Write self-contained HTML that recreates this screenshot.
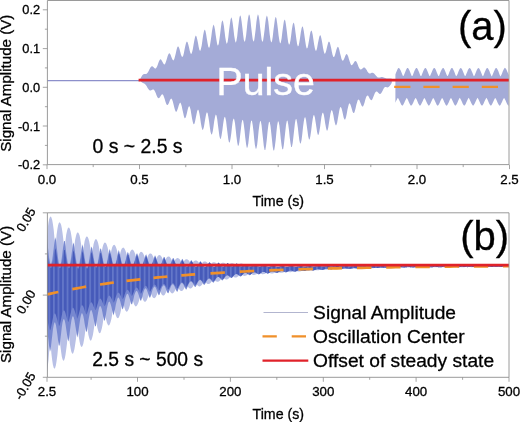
<!DOCTYPE html>
<html><head><meta charset="utf-8"><title>Signal Amplitude</title>
<style>html,body{margin:0;padding:0;background:#fff}svg{display:block}text{stroke:#000;stroke-width:.3px}</style></head>
<body>
<svg width="520" height="422" viewBox="0 0 520 422" font-family="'Liberation Sans', sans-serif" fill="#000">
<rect width="520" height="422" fill="#fff"/>
<filter id="bl" x="0" y="0" width="100%" height="100%" filterUnits="userSpaceOnUse" color-interpolation-filters="sRGB"><feGaussianBlur stdDeviation="0.5"/></filter>
<g filter="url(#bl)">
<rect width="520" height="422" fill="#fff"/>
<path d="M47.4,80.6H139.5" stroke="#8d90cb" stroke-width="1.1" fill="none"/>
<filter id="b2" x="40" y="0" width="480" height="170" filterUnits="userSpaceOnUse" color-interpolation-filters="sRGB"><feGaussianBlur stdDeviation="0.7"/></filter>
<g filter="url(#b2)"><path d="M139.5 80.0L140.2 78.9L141.0 77.6L141.7 76.2L142.5 74.9L143.2 74.4L143.9 74.1L144.7 74.0L145.4 74.0L146.2 73.9L146.9 73.6L147.6 72.8L148.4 71.6L149.1 70.1L149.9 68.6L150.6 67.2L151.3 66.4L152.1 66.2L152.8 66.6L153.6 67.3L154.3 68.1L155.0 68.6L155.8 68.5L156.5 67.5L157.3 65.9L158.0 63.9L158.7 61.9L159.5 60.2L160.2 59.3L161.0 59.5L161.7 60.4L162.4 61.8L163.2 63.3L163.9 64.2L164.7 64.4L165.4 63.3L166.1 61.3L166.9 58.8L167.6 56.2L168.4 54.2L169.1 53.2L169.8 53.5L170.6 54.8L171.3 56.8L172.1 58.8L172.8 60.1L173.5 60.4L174.3 59.1L175.0 56.6L175.8 53.3L176.5 50.1L177.2 47.5L178.0 46.3L178.7 47.0L179.5 49.0L180.2 51.8L180.9 54.5L181.7 56.5L182.4 57.1L183.2 55.7L183.9 52.9L184.6 49.2L185.4 45.6L186.1 42.8L186.9 41.5L187.6 42.3L188.3 44.5L189.1 47.7L189.8 51.0L190.6 53.4L191.3 54.1L192.0 52.5L192.8 49.2L193.5 44.9L194.3 40.6L195.0 37.2L195.7 35.6L196.5 36.5L197.2 39.2L198.0 43.1L198.7 47.0L199.4 49.9L200.2 50.9L200.9 49.1L201.7 45.4L202.4 40.4L203.1 35.4L203.9 31.5L204.6 29.5L205.4 30.7L206.1 34.0L206.8 38.6L207.6 43.3L208.3 46.8L209.1 48.1L209.8 46.2L210.5 42.1L211.3 36.6L212.0 31.0L212.8 26.7L213.5 24.5L214.2 25.9L215.0 29.7L215.7 34.9L216.5 40.2L217.2 44.2L217.9 45.8L218.7 43.9L219.4 39.4L220.2 33.5L220.9 27.4L221.6 22.6L222.4 20.3L223.1 21.8L223.9 26.0L224.6 31.8L225.3 37.6L226.1 42.1L226.8 44.0L227.6 42.1L228.3 37.5L229.0 31.1L229.8 24.7L230.5 19.7L231.3 17.2L232.0 18.9L232.7 23.3L233.5 29.5L234.2 35.8L235.0 40.6L235.7 42.8L236.4 40.9L237.2 36.2L237.9 29.6L238.7 22.9L239.4 17.7L240.1 15.2L240.9 16.8L241.6 21.5L242.4 28.0L243.1 34.6L243.8 39.7L244.6 42.1L245.3 40.3L246.1 35.5L246.8 28.9L247.5 22.1L248.3 16.7L249.0 14.2L249.8 15.8L250.5 20.6L251.2 27.2L252.0 34.0L252.7 39.3L253.5 41.8L254.2 40.2L254.9 35.5L255.7 28.9L256.4 22.1L257.2 16.7L257.9 14.2L258.6 15.8L259.4 20.6L260.1 27.2L260.9 34.0L261.6 39.4L262.3 42.0L263.1 40.6L263.8 36.1L264.6 29.7L265.3 23.1L266.0 17.9L266.8 15.4L267.5 16.9L268.3 21.5L269.0 28.0L269.7 34.6L270.5 40.0L271.2 42.6L272.0 41.3L272.7 37.0L273.4 30.8L274.2 24.4L274.9 19.2L275.7 16.7L276.4 18.2L277.1 22.7L277.9 29.0L278.6 35.6L279.4 40.8L280.1 43.5L280.8 42.4L281.6 38.4L282.3 32.6L283.1 26.5L283.8 21.7L284.5 19.4L285.3 20.7L286.0 25.0L286.8 30.9L287.5 37.2L288.2 42.2L289.0 44.8L289.7 44.0L290.5 40.3L291.2 34.9L291.9 29.2L292.7 24.7L293.4 22.5L294.2 23.7L294.9 27.7L295.6 33.3L296.4 39.2L297.1 43.9L297.9 46.5L298.6 45.8L299.3 42.5L300.1 37.6L300.8 32.4L301.6 28.3L302.3 26.2L303.0 27.3L303.8 31.0L304.5 36.1L305.3 41.6L306.0 46.0L306.7 48.4L307.5 47.9L308.2 45.0L309.0 40.6L309.7 35.9L310.4 32.2L311.2 30.4L311.9 31.3L312.7 34.7L313.4 39.4L314.1 44.3L314.9 48.4L315.6 50.7L316.4 50.4L317.1 47.9L317.8 44.0L318.6 39.9L319.3 36.7L320.1 35.1L320.8 36.0L321.5 39.1L322.3 43.3L323.0 47.8L323.8 51.5L324.5 53.7L325.2 53.6L326.0 51.6L326.7 48.5L327.5 45.2L328.2 42.6L328.9 41.4L329.7 42.2L330.4 44.7L331.2 48.2L331.9 52.0L332.6 55.1L333.4 56.9L334.1 56.9L334.9 55.3L335.6 52.7L336.3 49.9L337.1 47.7L337.8 46.7L338.6 47.4L339.3 49.7L340.0 52.9L340.8 56.1L341.5 58.9L342.3 60.6L343.0 60.7L343.7 59.7L344.5 57.9L345.2 55.9L346.0 54.5L346.7 53.9L347.4 54.7L348.2 56.5L348.9 58.9L349.7 61.5L350.4 63.6L351.1 65.0L351.9 65.2L352.6 64.6L353.4 63.4L354.1 62.2L354.8 61.3L355.6 61.0L356.3 61.6L357.1 63.0L357.8 64.8L358.5 66.7L359.3 68.2L360.0 69.3L360.8 69.6L361.5 69.3L362.2 68.7L363.0 68.0L363.7 67.5L364.5 67.5L365.2 68.0L365.9 68.9L366.7 70.1L367.4 71.4L368.2 72.4L368.9 73.2L369.6 73.5L370.4 73.4L371.1 73.1L371.9 72.8L372.6 72.7L373.3 73.0L374.1 73.5L374.8 74.3L375.6 75.2L376.3 76.1L377.0 76.8L377.8 77.4L378.5 77.5L379.3 77.5L380.0 77.4L380.7 77.2L381.5 77.1L382.2 77.1L383.0 77.2L383.7 77.5L384.4 77.7L385.2 78.0L385.9 78.3L386.7 78.5L387.4 78.5L388.1 78.6L388.9 78.5L389.6 78.5L390.4 78.5L391.1 78.5L391.8 78.7L391.8 82.8L391.1 83.9L390.4 85.0L389.6 86.0L388.9 86.8L388.1 87.3L387.4 87.4L386.7 87.2L385.9 87.0L385.2 87.1L384.4 87.6L383.7 88.6L383.0 89.9L382.2 91.4L381.5 92.7L380.7 93.7L380.0 94.0L379.3 93.8L378.5 93.1L377.8 92.3L377.0 91.6L376.3 91.4L375.6 92.0L374.8 93.3L374.1 95.1L373.3 97.1L372.6 98.8L371.9 100.0L371.1 100.2L370.4 99.6L369.6 98.4L368.9 97.0L368.2 95.8L367.4 95.4L366.7 96.1L365.9 97.7L365.2 100.1L364.5 102.7L363.7 104.9L363.0 106.4L362.2 106.6L361.5 105.6L360.8 103.8L360.0 101.8L359.3 100.1L358.5 99.4L357.8 100.1L357.1 102.2L356.3 105.1L355.6 108.3L354.8 111.2L354.1 113.0L353.4 113.1L352.6 111.7L351.9 109.3L351.1 106.6L350.4 104.4L349.7 103.3L348.9 104.0L348.2 106.5L347.4 110.0L346.7 113.9L346.0 117.3L345.2 119.4L344.5 119.5L343.7 117.7L343.0 114.6L342.3 111.2L341.5 108.3L340.8 106.9L340.0 107.6L339.3 110.4L338.6 114.4L337.8 119.0L337.1 122.9L336.3 125.3L335.6 125.3L334.9 123.1L334.1 119.5L333.4 115.3L332.6 111.8L331.9 110.0L331.2 110.7L330.4 113.7L329.7 118.3L328.9 123.3L328.2 127.7L327.5 130.4L326.7 130.4L326.0 127.8L325.2 123.6L324.5 118.8L323.8 114.8L323.0 112.6L322.3 113.2L321.5 116.5L320.8 121.4L320.1 127.0L319.3 131.8L318.6 134.8L317.8 134.7L317.1 131.9L316.4 127.2L315.6 121.9L314.9 117.4L314.1 114.9L313.4 115.4L312.7 119.0L311.9 124.5L311.2 130.6L310.4 136.0L309.7 139.3L309.0 139.4L308.2 136.3L307.5 131.1L306.7 125.2L306.0 120.1L305.3 117.2L304.5 117.7L303.8 121.4L303.0 127.3L302.3 133.9L301.6 139.7L300.8 143.3L300.1 143.4L299.3 140.0L298.6 134.4L297.9 128.0L297.1 122.4L296.4 119.1L295.6 119.5L294.9 123.5L294.2 129.8L293.4 136.9L292.7 143.1L291.9 146.9L291.2 146.9L290.5 143.3L289.7 137.2L289.0 130.3L288.2 124.3L287.5 120.6L286.8 120.9L286.0 124.9L285.3 131.4L284.5 138.8L283.8 145.3L283.1 149.2L282.3 149.3L281.6 145.5L280.8 139.1L280.1 131.8L279.4 125.5L278.6 121.6L277.9 121.6L277.1 125.7L276.4 132.2L275.7 139.7L274.9 146.3L274.2 150.3L273.4 150.4L272.7 146.4L272.0 139.9L271.2 132.5L270.5 125.9L269.7 121.9L269.0 121.7L268.3 125.6L267.5 132.1L266.8 139.5L266.0 146.0L265.3 150.0L264.6 150.0L263.8 146.1L263.1 139.6L262.3 132.2L261.6 125.6L260.9 121.4L260.1 121.1L259.4 124.8L258.6 131.0L257.9 138.2L257.2 144.6L256.4 148.6L255.7 148.8L254.9 145.1L254.2 138.9L253.5 131.6L252.7 125.1L252.0 121.0L251.2 120.6L250.5 124.1L249.8 130.2L249.0 137.3L248.3 143.6L247.5 147.5L246.8 147.8L246.1 144.2L245.3 138.0L244.6 130.9L243.8 124.5L243.1 120.4L242.4 119.8L241.6 123.1L240.9 128.9L240.1 135.7L239.4 141.7L238.7 145.5L237.9 145.8L237.2 142.3L236.4 136.3L235.7 129.4L235.0 123.2L234.2 119.2L233.5 118.5L232.7 121.5L232.0 126.8L231.3 133.2L230.5 138.8L229.8 142.3L229.0 142.6L228.3 139.3L227.6 133.8L226.8 127.2L226.1 121.3L225.3 117.4L224.6 116.7L223.9 119.3L223.1 124.2L222.4 130.0L221.6 135.3L220.9 138.6L220.2 138.9L219.4 135.9L218.7 130.7L217.9 124.7L217.2 119.1L216.5 115.4L215.7 114.6L215.0 116.9L214.2 121.3L213.5 126.5L212.8 131.2L212.0 134.2L211.3 134.5L210.5 131.8L209.8 127.1L209.1 121.6L208.3 116.5L207.6 113.1L206.8 112.2L206.1 114.2L205.4 118.0L204.6 122.7L203.9 126.9L203.1 129.6L202.4 129.9L201.7 127.4L200.9 123.2L200.2 118.2L199.4 113.6L198.7 110.4L198.0 109.4L197.2 111.0L196.5 114.3L195.7 118.2L195.0 121.8L194.3 124.0L193.5 124.2L192.8 122.0L192.0 118.3L191.3 113.9L190.6 109.8L189.8 107.0L189.1 106.1L188.3 107.4L187.6 110.0L186.9 113.3L186.1 116.3L185.4 118.1L184.6 118.2L183.9 116.3L183.2 113.1L182.4 109.4L181.7 105.9L180.9 103.4L180.2 102.5L179.5 103.4L178.7 105.5L178.0 108.0L177.2 110.3L176.5 111.7L175.8 111.7L175.0 110.0L174.3 107.4L173.5 104.3L172.8 101.4L172.1 99.4L171.3 98.5L170.6 99.1L169.8 100.6L169.1 102.4L168.4 104.1L167.6 105.0L166.9 104.9L166.1 103.5L165.4 101.4L164.7 99.0L163.9 96.7L163.2 95.0L162.4 94.3L161.7 94.6L161.0 95.5L160.2 96.7L159.5 97.7L158.7 98.2L158.0 98.0L157.3 96.9L156.5 95.2L155.8 93.3L155.0 91.6L154.3 90.3L153.6 89.6L152.8 89.5L152.1 89.8L151.3 90.3L150.6 90.6L149.9 90.5L149.1 90.1L148.4 89.1L147.6 87.9L146.9 86.6L146.2 85.4L145.4 84.5L144.7 83.8L143.9 83.4L143.2 83.1L142.5 82.7L141.7 82.2L141.0 81.5L140.2 80.8L139.5 80.0Z" fill="#a4abd7"/>
<path d="M395.4 74.4L396.1 72.5L396.9 70.7L397.6 69.1L398.4 68.1L399.1 68.0L399.8 68.9L400.6 70.3L401.3 72.1L402.1 74.0L402.8 75.8L403.5 76.0L404.3 74.3L405.0 72.4L405.8 70.6L406.5 69.1L407.2 68.1L408.0 68.0L408.7 68.9L409.5 70.4L410.2 72.2L410.9 74.1L411.7 75.9L412.4 76.0L413.2 74.2L413.9 72.3L414.6 70.5L415.4 69.0L416.1 68.1L416.9 68.0L417.6 69.0L418.3 70.5L419.1 72.3L419.8 74.2L420.6 75.9L421.3 75.9L422.0 74.2L422.8 72.3L423.5 70.5L424.3 69.0L425.0 68.0L425.7 68.1L426.5 69.0L427.2 70.5L428.0 72.4L428.7 74.3L429.4 76.0L430.2 75.8L430.9 74.1L431.7 72.2L432.4 70.4L433.1 68.9L433.9 68.0L434.6 68.1L435.4 69.1L436.1 70.6L436.8 72.4L437.6 74.3L438.3 76.0L439.1 75.8L439.8 74.0L440.5 72.1L441.3 70.3L442.0 68.9L442.8 68.0L443.5 68.1L444.2 69.1L445.0 70.7L445.7 72.5L446.5 74.4L447.2 76.1L447.9 75.7L448.7 73.9L449.4 72.0L450.2 70.2L450.9 68.8L451.6 68.0L452.4 68.1L453.1 69.2L453.9 70.8L454.6 72.6L455.3 74.5L456.1 76.2L456.8 75.6L457.6 73.9L458.3 72.0L459.0 70.2L459.8 68.8L460.5 67.9L461.3 68.2L462.0 69.3L462.7 70.8L463.5 72.7L464.2 74.6L465.0 76.2L465.7 75.6L466.4 73.8L467.2 71.9L467.9 70.1L468.7 68.7L469.4 67.9L470.1 68.2L470.9 69.3L471.6 70.9L472.4 72.7L473.1 74.6L473.8 76.3L474.6 75.5L475.3 73.7L476.1 71.8L476.8 70.1L477.5 68.7L478.3 67.9L479.0 68.2L479.8 69.4L480.5 71.0L481.2 72.8L482.0 74.7L482.7 76.3L483.5 75.4L484.2 73.6L484.9 71.7L485.7 70.0L486.4 68.6L487.2 67.9L487.9 68.3L488.6 69.4L489.4 71.0L490.1 72.9L490.9 74.8L491.6 76.4L492.3 75.4L493.1 73.5L493.8 71.7L494.6 69.9L495.3 68.6L496.0 67.9L496.8 68.3L497.5 69.5L498.3 71.1L499.0 73.0L499.7 74.9L500.5 76.4L501.2 75.3L502.0 73.5L502.7 71.6L503.4 69.9L504.2 68.6L504.9 67.8L505.7 68.4L506.4 69.5L507.1 71.2L507.9 73.1L508.6 74.9L508.6 105.7L507.9 105.2L507.1 104.0L506.4 102.5L505.7 100.8L504.9 99.2L504.2 97.9L503.4 98.8L502.7 100.3L502.0 102.0L501.2 103.6L500.5 104.9L499.7 105.7L499.0 105.2L498.3 104.0L497.5 102.4L496.8 100.7L496.0 99.1L495.3 97.9L494.6 98.8L493.8 100.4L493.1 102.1L492.3 103.7L491.6 105.0L490.9 105.8L490.1 105.1L489.4 103.9L488.6 102.3L487.9 100.6L487.2 99.1L486.4 97.8L485.7 98.9L484.9 100.4L484.2 102.1L483.5 103.7L482.7 105.0L482.0 105.8L481.2 105.1L480.5 103.9L479.8 102.3L479.0 100.6L478.3 99.0L477.5 97.8L476.8 98.9L476.1 100.5L475.3 102.2L474.6 103.8L473.8 105.1L473.1 105.8L472.4 105.1L471.6 103.8L470.9 102.2L470.1 100.5L469.4 98.9L468.7 97.8L467.9 99.0L467.2 100.6L466.4 102.3L465.7 103.9L465.0 105.1L464.2 105.8L463.5 105.0L462.7 103.7L462.0 102.1L461.3 100.4L460.5 98.9L459.8 97.8L459.0 99.1L458.3 100.6L457.6 102.3L456.8 103.9L456.1 105.1L455.3 105.8L454.6 105.0L453.9 103.7L453.1 102.1L452.4 100.4L451.6 98.8L450.9 97.9L450.2 99.1L449.4 100.7L448.7 102.4L447.9 104.0L447.2 105.2L446.5 105.7L445.7 104.9L445.0 103.6L444.2 102.0L443.5 100.3L442.8 98.8L442.0 97.9L441.3 99.2L440.5 100.8L439.8 102.5L439.1 104.0L438.3 105.2L437.6 105.7L436.8 104.9L436.1 103.6L435.4 101.9L434.6 100.2L433.9 98.7L433.1 98.0L432.4 99.2L431.7 100.8L430.9 102.5L430.2 104.1L429.4 105.3L428.7 105.7L428.0 104.8L427.2 103.5L426.5 101.9L425.7 100.2L425.0 98.7L424.3 98.0L423.5 99.3L422.8 100.9L422.0 102.6L421.3 104.1L420.6 105.3L419.8 105.7L419.1 104.8L418.3 103.4L417.6 101.8L416.9 100.1L416.1 98.6L415.4 98.0L414.6 99.4L413.9 101.0L413.2 102.7L412.4 104.2L411.7 105.3L410.9 105.7L410.2 104.8L409.5 103.4L408.7 101.7L408.0 100.0L407.2 98.6L406.5 98.1L405.8 99.4L405.0 101.0L404.3 102.7L403.5 104.3L402.8 105.4L402.1 105.6L401.3 104.7L400.6 103.3L399.8 101.6L399.1 100.0L398.4 98.5L397.6 98.1L396.9 99.5L396.1 101.1L395.4 102.8Z" fill="#a4abd7"/></g>
<path d="M138.6,80.1H509" stroke="#e0222a" stroke-width="2.7" fill="none"/>
<path d="M394.2,86.9H509" stroke="#f0902a" stroke-width="2.4" stroke-dasharray="16.2 13" fill="none"/>
<path d="M47.4,0.5H509V164.6H47.4Z" fill="none" stroke="#8e8e8e" stroke-width="0.9"/>
<path d="M47.0,164.6v4.5M139.5,164.6v4.5M232.0,164.6v4.5M324.5,164.6v4.5M417.0,164.6v4.5M509.5,164.6v4.5M93.2,164.6v2.5M185.8,164.6v2.5M278.2,164.6v2.5M370.8,164.6v2.5M463.2,164.6v2.5" stroke="#8e8e8e" stroke-width="0.8" fill="none"/>
<path d="M47.4,9.8h-4.6M47.4,48.6h-4.6M47.4,87.3h-4.6M47.4,126.0h-4.6M47.4,164.8h-4.6M47.4,29.2h-2.5M47.4,67.9h-2.5M47.4,106.7h-2.5M47.4,145.4h-2.5" stroke="#8e8e8e" stroke-width="0.8" fill="none"/>
<text x="40.1" y="14.3" font-size="12.8" text-anchor="end">0.2</text>
<text x="40.1" y="53.1" font-size="12.8" text-anchor="end">0.1</text>
<text x="40.1" y="91.8" font-size="12.8" text-anchor="end">0.0</text>
<text x="40.1" y="130.5" font-size="12.8" text-anchor="end">-0.1</text>
<text x="40.1" y="169.3" font-size="12.8" text-anchor="end">-0.2</text>
<text x="47.0" y="184.2" font-size="13.3" text-anchor="middle">0.0</text>
<text x="139.5" y="184.2" font-size="13.3" text-anchor="middle">0.5</text>
<text x="232.0" y="184.2" font-size="13.3" text-anchor="middle">1.0</text>
<text x="324.5" y="184.2" font-size="13.3" text-anchor="middle">1.5</text>
<text x="417.0" y="184.2" font-size="13.3" text-anchor="middle">2.0</text>
<text x="509.5" y="184.2" font-size="13.3" text-anchor="middle">2.5</text>
<text x="278.3" y="206.2" font-size="14.2" text-anchor="middle">Time (s)</text>
<text transform="translate(11,83.2) rotate(-90)" font-size="15.15" text-anchor="middle">Signal Amplitude (V)</text>
<text x="265.7" y="95" font-size="39.3" text-anchor="middle" style="fill:#fff;stroke:#fff;stroke-width:.4px">Pulse</text>
<text x="92.5" y="153.2" font-size="20" textLength="90" lengthAdjust="spacingAndGlyphs">0 s ~ 2.5 s</text>
<text x="482.5" y="40.3" font-size="40" text-anchor="middle">(a)</text>
<clipPath id="cb"><rect x="47" y="212.8" width="462" height="164.5"/></clipPath>
<g clip-path="url(#cb)">
<path d="M47.0 236.8L47.7 228.3L48.5 222.6L49.2 218.9L50.0 216.9L50.7 216.4L51.4 217.5L52.2 220.0L52.9 224.0L53.7 229.7L54.4 237.4L55.1 249.9L55.9 243.4L56.6 234.7L57.4 229.0L58.1 225.3L58.8 223.1L59.6 222.3L60.3 222.9L61.1 224.8L61.8 228.1L62.5 232.8L63.3 239.3L64.0 248.9L64.8 249.6L65.5 240.5L66.2 234.7L67.0 230.9L67.7 228.5L68.5 227.5L69.2 227.7L69.9 229.1L70.7 231.8L71.4 235.8L72.2 241.3L72.9 249.1L73.6 255.9L74.4 245.9L75.1 240.1L75.9 236.3L76.6 233.8L77.3 232.6L78.1 232.5L78.8 233.5L79.6 235.6L80.3 238.9L81.0 243.4L81.8 249.8L82.5 262.0L83.3 250.7L84.0 244.8L84.7 240.8L85.5 238.2L86.2 236.8L87.0 236.4L87.7 237.0L88.4 238.5L89.2 241.2L89.9 244.9L90.7 250.1L91.4 258.3L92.1 254.3L92.9 248.2L93.6 244.1L94.4 241.3L95.1 239.7L95.8 239.0L96.6 239.4L97.3 240.7L98.1 242.9L98.8 246.1L99.5 250.4L100.3 256.8L101.0 257.8L101.8 251.5L102.5 247.5L103.2 244.9L104.0 243.3L104.7 242.6L105.5 242.7L106.2 243.5L106.9 245.2L107.7 247.7L108.4 251.2L109.2 256.1L109.9 261.0L110.6 254.1L111.4 250.2L112.1 247.5L112.9 245.8L113.6 244.9L114.3 244.8L115.1 245.5L115.8 246.8L116.6 248.9L117.3 251.8L118.0 255.8L118.8 263.2L119.5 256.7L120.3 252.9L121.0 250.4L121.7 248.7L122.5 247.9L123.2 247.6L124.0 247.9L124.7 248.9L125.4 250.5L126.2 252.8L126.9 256.0L127.7 260.9L128.4 258.8L129.1 255.0L129.9 252.6L130.6 250.9L131.4 249.9L132.1 249.5L132.8 249.7L133.6 250.5L134.3 251.8L135.1 253.7L135.8 256.4L136.5 260.2L137.3 261.0L138.0 257.2L138.8 254.8L139.5 253.2L140.2 252.2L141.0 251.8L141.7 251.9L142.5 252.4L143.2 253.4L143.9 254.9L144.7 257.0L145.4 260.0L146.2 263.3L146.9 259.0L147.6 256.7L148.4 255.1L149.1 254.1L149.9 253.5L150.6 253.5L151.3 253.8L152.1 254.6L152.8 255.9L153.6 257.6L154.3 260.1L155.0 264.4L155.8 260.7L156.5 258.4L157.3 256.8L158.0 255.7L158.7 255.2L159.5 255.0L160.2 255.2L161.0 255.9L161.7 256.9L162.4 258.4L163.2 260.4L163.9 263.5L164.7 262.4L165.4 260.0L166.1 258.4L166.9 257.3L167.6 256.7L168.4 256.5L169.1 256.6L169.8 257.1L170.6 258.0L171.3 259.2L172.1 260.9L172.8 263.4L173.5 264.1L174.3 261.6L175.0 260.0L175.8 259.0L176.5 258.4L177.2 258.1L178.0 258.1L178.7 258.4L179.5 259.1L180.2 260.1L180.9 261.5L181.7 263.5L182.4 265.8L183.2 263.0L183.9 261.4L184.6 260.3L185.4 259.6L186.1 259.3L186.9 259.2L187.6 259.5L188.3 260.0L189.1 260.8L189.8 262.0L190.6 263.6L191.3 266.3L192.0 264.1L192.8 262.6L193.5 261.5L194.3 260.9L195.0 260.5L195.7 260.4L196.5 260.6L197.2 261.0L198.0 261.6L198.7 262.6L199.4 263.8L200.2 265.8L200.9 265.2L201.7 263.7L202.4 262.7L203.1 262.0L203.9 261.6L204.6 261.5L205.4 261.6L206.1 261.8L206.8 262.3L207.6 263.1L208.3 264.1L209.1 265.6L209.8 266.1L210.5 264.5L211.3 263.5L212.0 262.8L212.8 262.4L213.5 262.2L214.2 262.2L215.0 262.4L215.7 262.8L216.5 263.3L217.2 264.1L217.9 265.3L218.7 266.8L219.4 265.0L220.2 264.0L220.9 263.4L221.6 262.9L222.4 262.7L223.1 262.7L223.9 262.8L224.6 263.1L225.3 263.5L226.1 264.1L226.8 265.0L227.6 266.5L228.3 265.4L229.0 264.4L229.8 263.8L230.5 263.4L231.3 263.2L232.0 263.1L232.7 263.2L233.5 263.4L234.2 263.7L235.0 264.2L235.7 264.9L236.4 266.0L237.2 265.7L237.9 264.8L238.7 264.3L239.4 263.9L240.1 263.7L240.9 263.6L241.6 263.6L242.4 263.8L243.1 264.0L243.8 264.4L244.6 265.0L245.3 265.8L246.1 266.1L246.8 265.2L247.5 264.7L248.3 264.3L249.0 264.1L249.8 264.0L250.5 264.0L251.2 264.1L252.0 264.4L252.7 264.7L253.5 265.1L254.2 265.8L254.9 266.7L255.7 265.7L256.4 265.2L257.2 264.8L257.9 264.6L258.6 264.5L259.4 264.5L260.1 264.5L260.9 264.7L261.6 265.0L262.3 265.4L263.1 265.9L263.8 266.8L264.6 266.2L265.3 265.6L266.0 265.3L266.8 265.1L267.5 264.9L268.3 264.9L269.0 265.0L269.7 265.1L270.5 265.3L271.2 265.6L272.0 266.1L272.7 266.7L273.4 266.6L274.2 266.1L274.9 265.7L275.7 265.5L276.4 265.4L277.1 265.4L277.9 265.4L278.6 265.5L279.4 265.7L280.1 265.9L280.8 266.2L281.6 266.7L282.3 266.9L283.1 266.4L283.8 266.0L284.5 265.8L285.3 265.6L286.0 265.5L286.8 265.5L287.5 265.6L288.2 265.7L289.0 265.9L289.7 266.1L290.5 266.5L291.2 267.1L291.9 266.4L292.7 266.1L293.4 265.8L294.2 265.7L294.9 265.6L295.6 265.5L296.4 265.6L297.1 265.6L297.9 265.8L298.6 266.0L299.3 266.3L300.1 266.8L300.8 266.5L301.6 266.1L302.3 265.9L303.0 265.7L303.8 265.6L304.5 265.6L305.3 265.6L306.0 265.6L306.7 265.7L307.5 265.9L308.2 266.2L309.0 266.5L309.7 266.5L310.4 266.1L311.2 265.9L311.9 265.7L312.7 265.6L313.4 265.6L314.1 265.6L314.9 265.6L315.6 265.7L316.4 265.9L317.1 266.1L317.8 266.3L318.6 266.5L319.3 266.2L320.1 265.9L320.8 265.8L321.5 265.7L322.3 265.6L323.0 265.6L323.8 265.6L324.5 265.7L325.2 265.8L326.0 266.0L326.7 266.2L327.5 266.6L328.2 266.2L328.9 265.9L329.7 265.8L330.4 265.7L331.2 265.6L331.9 265.6L332.6 265.6L333.4 265.7L334.1 265.8L334.9 265.9L335.6 266.1L336.3 266.4L337.1 266.2L337.8 266.0L338.6 265.8L339.3 265.7L340.0 265.7L340.8 265.6L341.5 265.6L342.3 265.7L343.0 265.8L343.7 265.9L344.5 266.0L345.2 266.3L346.0 266.2L346.7 266.0L347.4 265.9L348.2 265.8L348.9 265.7L349.7 265.7L350.4 265.7L351.1 265.7L351.9 265.7L352.6 265.8L353.4 266.0L354.1 266.2L354.8 266.3L355.6 266.0L356.3 265.9L357.1 265.8L357.8 265.7L358.5 265.7L359.3 265.7L360.0 265.7L360.8 265.7L361.5 265.8L362.2 265.9L363.0 266.1L363.7 266.4L364.5 266.1L365.2 265.9L365.9 265.8L366.7 265.7L367.4 265.7L368.2 265.7L368.9 265.7L369.6 265.7L370.4 265.8L371.1 265.9L371.9 266.0L372.6 266.2L373.3 266.1L374.1 266.0L374.8 265.8L375.6 265.8L376.3 265.7L377.0 265.7L377.8 265.7L378.5 265.7L379.3 265.8L380.0 265.9L380.7 266.0L381.5 266.1L382.2 266.1L383.0 266.0L383.7 265.9L384.4 265.8L385.2 265.8L385.9 265.7L386.7 265.7L387.4 265.8L388.1 265.8L388.9 265.9L389.6 265.9L390.4 266.1L391.1 266.2L391.8 266.0L392.6 265.9L393.3 265.8L394.1 265.8L394.8 265.8L395.5 265.8L396.3 265.8L397.0 265.8L397.8 265.8L398.5 265.9L399.2 266.0L400.0 266.2L400.7 266.0L401.5 265.9L402.2 265.9L402.9 265.8L403.7 265.8L404.4 265.8L405.2 265.8L405.9 265.8L406.6 265.8L407.4 265.9L408.1 266.0L408.9 266.1L409.6 266.1L410.3 265.9L411.1 265.9L411.8 265.8L412.6 265.8L413.3 265.8L414.0 265.8L414.8 265.8L415.5 265.8L416.3 265.9L417.0 266.0L417.7 266.1L418.5 266.1L419.2 266.0L420.0 265.9L420.7 265.9L421.4 265.8L422.2 265.8L422.9 265.8L423.7 265.8L424.4 265.9L425.1 265.9L425.9 266.0L426.6 266.1L427.4 266.2L428.1 266.0L428.8 265.9L429.6 265.9L430.3 265.9L431.1 265.8L431.8 265.8L432.5 265.8L433.3 265.9L434.0 265.9L434.8 266.0L435.5 266.0L436.2 266.2L437.0 266.1L437.7 266.0L438.5 265.9L439.2 265.9L439.9 265.9L440.7 265.9L441.4 265.9L442.2 265.9L442.9 265.9L443.6 266.0L444.4 266.0L445.1 266.1L445.9 266.1L446.6 266.0L447.3 265.9L448.1 265.9L448.8 265.9L449.6 265.9L450.3 265.9L451.0 265.9L451.8 265.9L452.5 266.0L453.3 266.0L454.0 266.1L454.7 266.1L455.5 266.0L456.2 266.0L457.0 265.9L457.7 265.9L458.4 265.9L459.2 265.9L459.9 265.9L460.7 265.9L461.4 266.0L462.1 266.0L462.9 266.1L463.6 266.2L464.4 266.1L465.1 266.0L465.8 266.0L466.6 265.9L467.3 265.9L468.1 265.9L468.8 265.9L469.5 265.9L470.3 266.0L471.0 266.0L471.8 266.1L472.5 266.2L473.2 266.1L474.0 266.0L474.7 266.0L475.5 266.0L476.2 265.9L476.9 265.9L477.7 265.9L478.4 266.0L479.2 266.0L479.9 266.0L480.6 266.1L481.4 266.2L482.1 266.1L482.9 266.1L483.6 266.0L484.3 266.0L485.1 266.0L485.8 266.0L486.6 266.0L487.3 266.0L488.0 266.0L488.8 266.0L489.5 266.1L490.3 266.2L491.0 266.2L491.7 266.1L492.5 266.0L493.2 266.0L494.0 266.0L494.7 266.0L495.4 266.0L496.2 266.0L496.9 266.0L497.7 266.0L498.4 266.1L499.1 266.1L499.9 266.2L500.6 266.1L501.4 266.1L502.1 266.0L502.8 266.0L503.6 266.0L504.3 266.0L505.1 266.0L505.8 266.0L506.5 266.0L507.3 266.1L508.0 266.1L508.8 266.2L508.8 267.0L508.0 267.0L507.3 267.0L506.5 267.0L505.8 266.9L505.1 266.9L504.3 266.8L503.6 266.8L502.8 266.9L502.1 266.9L501.4 267.0L500.6 267.0L499.9 267.0L499.1 267.0L498.4 267.0L497.7 267.0L496.9 267.0L496.2 267.0L495.4 266.9L494.7 266.8L494.0 266.9L493.2 267.0L492.5 267.0L491.7 267.0L491.0 267.1L490.3 267.1L489.5 267.1L488.8 267.1L488.0 267.0L487.3 267.0L486.6 266.9L485.8 266.9L485.1 266.9L484.3 267.0L483.6 267.0L482.9 267.1L482.1 267.1L481.4 267.1L480.6 267.1L479.9 267.1L479.2 267.1L478.4 267.1L477.7 267.0L476.9 266.9L476.2 266.9L475.5 267.0L474.7 267.1L474.0 267.1L473.2 267.1L472.5 267.2L471.8 267.2L471.0 267.2L470.3 267.1L469.5 267.1L468.8 267.0L468.1 267.0L467.3 266.9L466.6 267.0L465.8 267.1L465.1 267.1L464.4 267.2L463.6 267.2L462.9 267.2L462.1 267.2L461.4 267.2L460.7 267.2L459.9 267.1L459.2 267.0L458.4 266.9L457.7 267.0L457.0 267.1L456.2 267.2L455.5 267.2L454.7 267.2L454.0 267.3L453.3 267.3L452.5 267.2L451.8 267.2L451.0 267.2L450.3 267.1L449.6 267.0L448.8 267.0L448.1 267.1L447.3 267.2L446.6 267.2L445.9 267.3L445.1 267.3L444.4 267.3L443.6 267.3L442.9 267.2L442.2 267.2L441.4 267.1L440.7 267.0L439.9 267.0L439.2 267.1L438.5 267.2L437.7 267.3L437.0 267.3L436.2 267.3L435.5 267.3L434.8 267.3L434.0 267.3L433.3 267.3L432.5 267.2L431.8 267.1L431.1 267.0L430.3 267.1L429.6 267.2L428.8 267.3L428.1 267.3L427.4 267.4L426.6 267.4L425.9 267.4L425.1 267.3L424.4 267.3L423.7 267.2L422.9 267.2L422.2 267.0L421.4 267.1L420.7 267.2L420.0 267.3L419.2 267.4L418.5 267.4L417.7 267.4L417.0 267.4L416.3 267.4L415.5 267.4L414.8 267.3L414.0 267.2L413.3 267.1L412.6 267.1L411.8 267.2L411.1 267.3L410.3 267.4L409.6 267.4L408.9 267.5L408.1 267.5L407.4 267.4L406.6 267.4L405.9 267.4L405.2 267.3L404.4 267.2L403.7 267.1L402.9 267.2L402.2 267.3L401.5 267.4L400.7 267.5L400.0 267.5L399.2 267.5L398.5 267.5L397.8 267.5L397.0 267.5L396.3 267.4L395.5 267.3L394.8 267.2L394.1 267.4L393.3 267.5L392.6 267.6L391.8 267.7L391.1 267.7L390.4 267.8L389.6 267.8L388.9 267.8L388.1 267.7L387.4 267.7L386.7 267.6L385.9 267.4L385.2 267.5L384.4 267.7L383.7 267.8L383.0 267.9L382.2 268.0L381.5 268.0L380.7 268.0L380.0 268.0L379.3 268.0L378.5 267.9L377.8 267.8L377.0 267.7L376.3 267.7L375.6 267.9L374.8 268.0L374.1 268.1L373.3 268.2L372.6 268.3L371.9 268.3L371.1 268.3L370.4 268.3L369.6 268.2L368.9 268.1L368.2 267.9L367.4 267.8L366.7 268.1L365.9 268.2L365.2 268.4L364.5 268.5L363.7 268.5L363.0 268.6L362.2 268.6L361.5 268.5L360.8 268.4L360.0 268.3L359.3 268.2L358.5 267.9L357.8 268.2L357.1 268.4L356.3 268.6L355.6 268.7L354.8 268.8L354.1 268.8L353.4 268.8L352.6 268.8L351.9 268.7L351.1 268.6L350.4 268.4L349.7 268.2L348.9 268.4L348.2 268.6L347.4 268.8L346.7 268.9L346.0 269.0L345.2 269.1L344.5 269.1L343.7 269.0L343.0 269.0L342.3 268.9L341.5 268.7L340.8 268.5L340.0 268.5L339.3 268.8L338.6 269.0L337.8 269.1L337.1 269.2L336.3 269.3L335.6 269.3L334.9 269.3L334.1 269.3L333.4 269.1L332.6 269.0L331.9 268.8L331.2 268.6L330.4 268.9L329.7 269.2L328.9 269.4L328.2 269.5L327.5 269.6L326.7 269.7L326.0 269.7L325.2 269.7L324.5 269.6L323.8 269.5L323.0 269.3L322.3 268.9L321.5 269.3L320.8 269.6L320.1 269.9L319.3 270.1L318.6 270.2L317.8 270.3L317.1 270.3L316.4 270.3L315.6 270.2L314.9 270.1L314.1 269.8L313.4 269.5L312.7 269.7L311.9 270.1L311.2 270.4L310.4 270.6L309.7 270.8L309.0 270.9L308.2 270.9L307.5 270.9L306.7 270.8L306.0 270.7L305.3 270.4L304.5 270.1L303.8 270.1L303.0 270.5L302.3 270.9L301.6 271.1L300.8 271.3L300.1 271.5L299.3 271.6L298.6 271.5L297.9 271.5L297.1 271.3L296.4 271.1L295.6 270.7L294.9 270.4L294.2 271.0L293.4 271.4L292.7 271.7L291.9 271.9L291.2 272.1L290.5 272.2L289.7 272.2L289.0 272.1L288.2 272.0L287.5 271.7L286.8 271.4L286.0 270.8L285.3 271.4L284.5 271.9L283.8 272.2L283.1 272.5L282.3 272.7L281.6 272.8L280.8 272.8L280.1 272.8L279.4 272.6L278.6 272.4L277.9 272.0L277.1 271.4L276.4 271.8L275.7 272.3L274.9 272.7L274.2 273.0L273.4 273.3L272.7 273.4L272.0 273.5L271.2 273.4L270.5 273.3L269.7 273.0L269.0 272.6L268.3 272.1L267.5 272.0L266.8 272.7L266.0 273.2L265.3 273.6L264.6 273.9L263.8 274.1L263.1 274.2L262.3 274.2L261.6 274.0L260.9 273.7L260.1 273.3L259.4 272.8L258.6 272.2L257.9 273.1L257.2 273.7L256.4 274.2L255.7 274.6L254.9 274.8L254.2 274.9L253.5 274.9L252.7 274.8L252.0 274.5L251.2 274.1L250.5 273.5L249.8 272.5L249.0 273.5L248.3 274.2L247.5 274.7L246.8 275.2L246.1 275.6L245.3 275.8L244.6 275.9L243.8 275.8L243.1 275.6L242.4 275.2L241.6 274.7L240.9 273.8L240.1 274.3L239.4 275.3L238.7 276.0L237.9 276.6L237.2 277.1L236.4 277.4L235.7 277.5L235.0 277.4L234.2 277.2L233.5 276.8L232.7 276.2L232.0 275.3L231.3 275.2L230.5 276.5L229.8 277.4L229.0 278.2L228.3 278.8L227.6 279.2L226.8 279.5L226.1 279.5L225.3 279.3L224.6 278.9L223.9 278.3L223.1 277.4L222.4 276.4L221.6 278.1L220.9 279.3L220.2 280.2L219.4 280.9L218.7 281.5L217.9 281.8L217.2 281.8L216.5 281.6L215.7 281.2L215.0 280.5L214.2 279.6L213.5 277.9L212.8 279.6L212.0 281.0L211.3 282.1L210.5 283.0L209.8 283.6L209.1 284.0L208.3 284.1L207.6 283.9L206.8 283.5L206.1 282.8L205.4 281.7L204.6 280.1L203.9 280.9L203.1 282.6L202.4 283.9L201.7 284.9L200.9 285.7L200.2 286.2L199.4 286.4L198.7 286.2L198.0 285.8L197.2 285.0L196.5 283.9L195.7 282.3L195.0 281.8L194.3 284.0L193.5 285.5L192.8 286.8L192.0 287.7L191.3 288.3L190.6 288.6L189.8 288.5L189.1 288.1L188.3 287.3L187.6 286.2L186.9 284.5L186.1 282.6L185.4 285.4L184.6 287.2L183.9 288.7L183.2 289.9L182.4 290.7L181.7 291.1L180.9 291.0L180.2 290.6L179.5 289.8L178.7 288.6L178.0 286.9L177.2 284.1L176.5 286.6L175.8 288.8L175.0 290.5L174.3 291.8L173.5 292.8L172.8 293.3L172.1 293.4L171.3 293.0L170.6 292.2L169.8 290.9L169.1 289.1L168.4 286.5L167.6 287.4L166.9 290.1L166.1 292.1L165.4 293.6L164.7 294.7L163.9 295.4L163.2 295.6L162.4 295.3L161.7 294.6L161.0 293.3L160.2 291.5L159.5 289.0L158.7 288.1L158.0 291.3L157.3 293.7L156.5 295.5L155.8 296.9L155.0 297.8L154.3 298.2L153.6 298.1L152.8 297.4L152.1 296.2L151.3 294.4L150.6 291.9L149.9 288.7L149.1 293.0L148.4 295.9L147.6 298.1L146.9 299.8L146.2 301.0L145.4 301.7L144.7 301.7L143.9 301.2L143.2 300.1L142.5 298.3L141.7 295.8L141.0 291.7L140.2 295.2L139.5 298.7L138.8 301.5L138.0 303.6L137.3 305.1L136.5 306.1L135.8 306.4L135.1 305.9L134.3 304.8L133.6 303.0L132.8 300.4L132.1 296.5L131.4 297.7L130.6 302.0L129.9 305.3L129.1 307.9L128.4 309.8L127.7 311.1L126.9 311.7L126.2 311.4L125.4 310.4L124.7 308.6L124.0 306.0L123.2 302.1L122.5 300.6L121.7 306.0L121.0 310.1L120.3 313.3L119.5 315.7L118.8 317.4L118.0 318.2L117.3 318.1L116.6 317.2L115.8 315.3L115.1 312.5L114.3 308.5L113.6 302.8L112.9 310.2L112.1 315.1L111.4 319.0L110.6 322.0L109.9 324.1L109.2 325.3L108.4 325.4L107.7 324.5L106.9 322.7L106.2 319.8L105.5 315.7L104.7 309.1L104.0 314.6L103.2 320.5L102.5 325.1L101.8 328.6L101.0 331.3L100.3 332.9L99.5 333.2L98.8 332.4L98.1 330.5L97.3 327.5L96.6 323.2L95.8 316.7L95.1 318.2L94.4 325.3L93.6 330.7L92.9 334.9L92.1 338.0L91.4 340.0L90.7 340.7L89.9 339.9L89.2 338.0L88.4 334.9L87.7 330.3L87.0 324.0L86.2 320.6L85.5 329.2L84.7 335.4L84.0 340.1L83.3 343.7L82.5 346.1L81.8 347.1L81.0 346.6L80.3 344.8L79.6 341.7L78.8 337.1L78.1 330.7L77.3 320.8L76.6 332.2L75.9 339.5L75.1 345.0L74.4 349.3L73.6 352.2L72.9 353.7L72.2 353.5L71.4 351.9L70.7 348.8L69.9 344.1L69.2 337.6L68.5 327.6L67.7 334.8L67.0 343.3L66.2 349.8L65.5 354.8L64.8 358.3L64.0 360.4L63.3 360.7L62.5 359.3L61.8 356.4L61.1 351.8L60.3 345.3L59.6 335.8L58.8 337.1L58.1 347.4L57.4 355.0L56.6 361.0L55.9 365.3L55.1 368.0L54.4 368.8L53.7 367.7L52.9 364.8L52.2 360.2L51.4 353.5L50.7 344.2L50.0 338.4L49.2 351.0L48.5 359.9L47.7 366.8L47.0 371.9Z" fill="#b8c0e6"/>
<path d="M47.0 238.5L47.7 245.3L48.5 252.3L49.2 258.2L50.0 262.4L50.7 264.4L51.4 263.3L52.2 260.0L52.9 254.8L53.7 248.5L54.4 242.3L55.1 237.2L55.9 239.7L56.6 245.8L57.4 252.4L58.1 258.4L58.8 262.7L59.6 265.1L60.3 264.9L61.1 262.2L61.8 257.8L62.5 252.1L63.3 246.1L64.0 241.0L64.8 241.0L65.5 246.4L66.2 252.5L67.0 258.3L67.7 262.7L68.5 265.4L69.2 265.9L69.9 264.0L70.7 260.3L71.4 255.2L72.2 249.7L72.9 244.6L73.6 242.5L74.4 247.2L75.1 252.9L75.9 258.4L76.6 263.0L77.3 266.0L78.1 267.1L78.8 265.7L79.6 262.6L80.3 258.1L81.0 253.0L81.8 248.0L82.5 244.2L83.3 248.0L84.0 253.1L84.7 258.3L85.5 262.8L86.2 265.9L87.0 267.5L87.7 266.6L88.4 264.1L89.2 260.1L89.9 255.3L90.7 250.5L91.4 246.5L92.1 248.1L92.9 252.6L93.6 257.4L94.4 261.8L95.1 265.0L95.8 266.7L96.6 266.5L97.3 264.5L98.1 261.2L98.8 257.0L99.5 252.5L100.3 248.7L101.0 248.5L101.8 252.5L102.5 256.9L103.2 261.1L104.0 264.4L104.7 266.3L105.5 266.7L106.2 265.1L106.9 262.4L107.7 258.6L108.4 254.5L109.2 250.8L109.9 249.0L110.6 252.3L111.4 256.2L112.1 260.1L112.9 263.2L113.6 265.2L114.3 266.0L115.1 265.0L115.8 262.8L116.6 259.7L117.3 256.1L118.0 252.7L118.8 250.0L119.5 252.5L120.3 256.0L121.0 259.6L121.7 262.7L122.5 264.8L123.2 265.8L124.0 265.2L124.7 263.5L125.4 260.9L126.2 257.7L126.9 254.5L127.7 251.9L128.4 252.9L129.1 255.8L129.9 259.0L130.6 261.9L131.4 264.1L132.1 265.2L132.8 265.2L133.6 263.9L134.3 261.8L135.1 259.1L135.8 256.2L136.5 253.7L137.3 253.5L138.0 256.1L138.8 259.0L139.5 261.7L140.2 263.9L141.0 265.2L141.7 265.5L142.5 264.6L143.2 262.8L143.9 260.5L144.7 257.9L145.4 255.5L146.2 254.3L146.9 256.4L147.6 259.0L148.4 261.5L149.1 263.6L149.9 265.0L150.6 265.6L151.3 265.0L152.1 263.6L152.8 261.6L153.6 259.3L154.3 257.0L155.0 255.3L155.8 256.8L156.5 259.1L157.3 261.5L158.0 263.5L158.7 265.0L159.5 265.7L160.2 265.5L161.0 264.4L161.7 262.7L162.4 260.6L163.2 258.5L163.9 256.7L164.7 257.3L165.4 259.4L166.1 261.6L166.9 263.6L167.6 265.1L168.4 266.0L169.1 266.0L169.8 265.2L170.6 263.8L171.3 261.9L172.1 260.0L172.8 258.3L173.5 258.1L174.3 259.8L175.0 261.9L175.8 263.8L176.5 265.4L177.2 266.3L178.0 266.5L178.7 265.9L179.5 264.8L180.2 263.1L180.9 261.4L181.7 259.7L182.4 258.8L183.2 260.3L183.9 262.1L184.6 263.9L185.4 265.4L186.1 266.4L186.9 266.8L187.6 266.5L188.3 265.5L189.1 264.2L189.8 262.6L190.6 261.1L191.3 259.9L192.0 261.0L192.8 262.5L193.5 264.2L194.3 265.6L195.0 266.6L195.7 267.1L196.5 266.9L197.2 266.2L198.0 265.1L198.7 263.8L199.4 262.4L200.2 261.3L200.9 261.6L201.7 263.0L202.4 264.4L203.1 265.7L203.9 266.7L204.6 267.3L205.4 267.3L206.1 266.8L206.8 265.9L207.6 264.7L208.3 263.4L209.1 262.4L209.8 262.2L210.5 263.3L211.3 264.5L212.0 265.7L212.8 266.6L213.5 267.2L214.2 267.3L215.0 266.9L215.7 266.2L216.5 265.2L217.2 264.1L217.9 263.1L218.7 262.5L219.4 263.4L220.2 264.4L220.9 265.5L221.6 266.3L222.4 266.9L223.1 267.1L223.9 266.9L224.6 266.3L225.3 265.5L226.1 264.6L226.8 263.7L227.6 263.0L228.3 263.5L229.0 264.4L229.8 265.3L230.5 266.0L231.3 266.6L232.0 266.9L232.7 266.8L233.5 266.4L234.2 265.7L235.0 265.0L235.7 264.2L236.4 263.5L237.2 263.7L237.9 264.4L238.7 265.2L239.4 265.9L240.1 266.4L240.9 266.7L241.6 266.8L242.4 266.5L243.1 266.0L243.8 265.3L244.6 264.7L245.3 264.1L246.1 264.0L246.8 264.5L247.5 265.2L248.3 265.9L249.0 266.4L249.8 266.7L250.5 266.8L251.2 266.6L252.0 266.3L252.7 265.7L253.5 265.2L254.2 264.6L254.9 264.3L255.7 264.8L256.4 265.4L257.2 266.0L257.9 266.5L258.6 266.8L259.4 267.0L260.1 266.9L260.9 266.6L261.6 266.1L262.3 265.6L263.1 265.1L263.8 264.7L264.6 265.0L265.3 265.6L266.0 266.1L266.8 266.6L267.5 266.9L268.3 267.1L269.0 267.1L269.7 266.9L270.5 266.5L271.2 266.1L272.0 265.6L272.7 265.3L273.4 265.4L274.2 265.8L274.9 266.3L275.7 266.7L276.4 267.1L277.1 267.3L277.9 267.3L278.6 267.1L279.4 266.9L280.1 266.5L280.8 266.1L281.6 265.7L282.3 265.6L283.1 265.9L283.8 266.3L284.5 266.7L285.3 267.0L286.0 267.2L286.8 267.2L287.5 267.1L288.2 266.9L289.0 266.5L289.7 266.1L290.5 265.8L291.2 265.5L291.9 265.8L292.7 266.2L293.4 266.5L294.2 266.8L294.9 267.0L295.6 267.1L296.4 267.0L297.1 266.8L297.9 266.5L298.6 266.2L299.3 265.9L300.1 265.6L300.8 265.7L301.6 266.0L302.3 266.4L303.0 266.7L303.8 266.9L304.5 267.0L305.3 266.9L306.0 266.8L306.7 266.5L307.5 266.2L308.2 265.9L309.0 265.7L309.7 265.7L310.4 265.9L311.2 266.2L311.9 266.5L312.7 266.7L313.4 266.8L314.1 266.8L314.9 266.7L315.6 266.5L316.4 266.2L317.1 266.0L317.8 265.7L318.6 265.6L319.3 265.8L320.1 266.1L320.8 266.3L321.5 266.5L322.3 266.7L323.0 266.7L323.8 266.6L324.5 266.4L325.2 266.2L326.0 266.0L326.7 265.8L327.5 265.6L328.2 265.8L328.9 266.0L329.7 266.2L330.4 266.4L331.2 266.5L331.9 266.6L332.6 266.5L333.4 266.4L334.1 266.2L334.9 266.0L335.6 265.8L336.3 265.7L337.1 265.7L337.8 265.9L338.6 266.1L339.3 266.3L340.0 266.4L340.8 266.5L341.5 266.5L342.3 266.4L343.0 266.3L343.7 266.1L344.5 265.9L345.2 265.7L346.0 265.7L346.7 265.9L347.4 266.1L348.2 266.2L348.9 266.4L349.7 266.5L350.4 266.5L351.1 266.4L351.9 266.3L352.6 266.1L353.4 265.9L354.1 265.8L354.8 265.7L355.6 265.8L356.3 266.0L357.1 266.2L357.8 266.3L358.5 266.4L359.3 266.4L360.0 266.4L360.8 266.3L361.5 266.1L362.2 266.0L363.0 265.8L363.7 265.7L364.5 265.8L365.2 266.0L365.9 266.1L366.7 266.2L367.4 266.3L368.2 266.4L368.9 266.3L369.6 266.3L370.4 266.1L371.1 266.0L371.9 265.8L372.6 265.7L373.3 265.8L374.1 265.9L374.8 266.1L375.6 266.2L376.3 266.3L377.0 266.3L377.8 266.3L378.5 266.2L379.3 266.1L380.0 266.0L380.7 265.9L381.5 265.8L382.2 265.8L383.0 265.9L383.7 266.0L384.4 266.1L385.2 266.2L385.9 266.3L386.7 266.3L387.4 266.2L388.1 266.1L388.9 266.0L389.6 265.9L390.4 265.8L391.1 265.8L391.8 265.9L392.6 266.0L393.3 266.1L394.1 266.2L394.8 266.2L395.5 266.2L396.3 266.2L397.0 266.1L397.8 266.0L398.5 265.9L399.2 265.8L400.0 265.8L400.7 265.8L401.5 265.9L402.2 266.0L402.9 266.1L403.7 266.2L404.4 266.2L405.2 266.2L405.9 266.1L406.6 266.1L407.4 266.0L408.1 265.9L408.9 265.8L409.6 265.8L410.3 265.9L411.1 266.0L411.8 266.1L412.6 266.2L413.3 266.2L414.0 266.2L414.8 266.2L415.5 266.1L416.3 266.0L417.0 265.9L417.7 265.8L418.5 265.8L419.2 265.9L420.0 266.0L420.7 266.1L421.4 266.2L422.2 266.2L422.9 266.2L423.7 266.2L424.4 266.1L425.1 266.0L425.9 265.9L426.6 265.9L427.4 265.8L428.1 265.9L428.8 266.0L429.6 266.1L430.3 266.1L431.1 266.2L431.8 266.2L432.5 266.2L433.3 266.1L434.0 266.1L434.8 266.0L435.5 265.9L436.2 265.8L437.0 265.9L437.7 266.0L438.5 266.1L439.2 266.1L439.9 266.2L440.7 266.2L441.4 266.2L442.2 266.2L442.9 266.1L443.6 266.0L444.4 265.9L445.1 265.9L445.9 265.9L446.6 266.0L447.3 266.1L448.1 266.1L448.8 266.2L449.6 266.2L450.3 266.2L451.0 266.2L451.8 266.1L452.5 266.1L453.3 266.0L454.0 265.9L454.7 265.9L455.5 266.0L456.2 266.0L457.0 266.1L457.7 266.2L458.4 266.2L459.2 266.2L459.9 266.2L460.7 266.1L461.4 266.1L462.1 266.0L462.9 265.9L463.6 265.9L464.4 266.0L465.1 266.0L465.8 266.1L466.6 266.2L467.3 266.2L468.1 266.2L468.8 266.2L469.5 266.2L470.3 266.1L471.0 266.0L471.8 266.0L472.5 265.9L473.2 266.0L474.0 266.0L474.7 266.1L475.5 266.2L476.2 266.2L476.9 266.2L477.7 266.2L478.4 266.2L479.2 266.1L479.9 266.1L480.6 266.0L481.4 266.0L482.1 266.0L482.9 266.0L483.6 266.1L484.3 266.2L485.1 266.2L485.8 266.2L486.6 266.2L487.3 266.2L488.0 266.2L488.8 266.1L489.5 266.0L490.3 266.0L491.0 266.0L491.7 266.0L492.5 266.1L493.2 266.2L494.0 266.2L494.7 266.2L495.4 266.2L496.2 266.2L496.9 266.2L497.7 266.1L498.4 266.1L499.1 266.0L499.9 266.0L500.6 266.0L501.4 266.1L502.1 266.2L502.8 266.2L503.6 266.2L504.3 266.2L505.1 266.2L505.8 266.2L506.5 266.2L507.3 266.1L508.0 266.0L508.8 266.0L508.8 266.8L508.0 266.8L507.3 266.8L506.5 266.8L505.8 266.9L505.1 266.9L504.3 267.0L503.6 267.0L502.8 267.0L502.1 266.9L501.4 266.9L500.6 266.8L499.9 266.8L499.1 266.8L498.4 266.8L497.7 266.8L496.9 266.9L496.2 266.9L495.4 267.0L494.7 267.1L494.0 267.0L493.2 267.0L492.5 266.9L491.7 266.9L491.0 266.8L490.3 266.8L489.5 266.8L488.8 266.8L488.0 266.9L487.3 267.0L486.6 267.0L485.8 267.1L485.1 267.1L484.3 267.0L483.6 267.0L482.9 266.9L482.1 266.9L481.4 266.8L480.6 266.8L479.9 266.9L479.2 266.9L478.4 267.0L477.7 267.1L476.9 267.1L476.2 267.1L475.5 267.1L474.7 267.0L474.0 267.0L473.2 266.9L472.5 266.9L471.8 266.9L471.0 266.9L470.3 266.9L469.5 267.0L468.8 267.1L468.1 267.1L467.3 267.2L466.6 267.1L465.8 267.1L465.1 267.0L464.4 266.9L463.6 266.9L462.9 266.9L462.1 266.9L461.4 266.9L460.7 267.0L459.9 267.1L459.2 267.2L458.4 267.2L457.7 267.2L457.0 267.1L456.2 267.0L455.5 267.0L454.7 266.9L454.0 266.9L453.3 266.9L452.5 267.0L451.8 267.0L451.0 267.1L450.3 267.2L449.6 267.3L448.8 267.2L448.1 267.2L447.3 267.1L446.6 267.0L445.9 267.0L445.1 266.9L444.4 266.9L443.6 267.0L442.9 267.0L442.2 267.1L441.4 267.2L440.7 267.3L439.9 267.3L439.2 267.2L438.5 267.2L437.7 267.1L437.0 267.0L436.2 267.0L435.5 267.0L434.8 267.0L434.0 267.0L433.3 267.1L432.5 267.2L431.8 267.3L431.1 267.4L430.3 267.3L429.6 267.2L428.8 267.1L428.1 267.1L427.4 267.0L426.6 267.0L425.9 267.0L425.1 267.1L424.4 267.1L423.7 267.2L422.9 267.3L422.2 267.4L421.4 267.3L420.7 267.3L420.0 267.2L419.2 267.1L418.5 267.0L417.7 267.0L417.0 267.0L416.3 267.1L415.5 267.1L414.8 267.2L414.0 267.3L413.3 267.4L412.6 267.4L411.8 267.3L411.1 267.2L410.3 267.2L409.6 267.1L408.9 267.0L408.1 267.0L407.4 267.1L406.6 267.2L405.9 267.2L405.2 267.3L404.4 267.4L403.7 267.5L402.9 267.4L402.2 267.3L401.5 267.2L400.7 267.1L400.0 267.1L399.2 267.1L398.5 267.1L397.8 267.2L397.0 267.3L396.3 267.4L395.5 267.6L394.8 267.6L394.1 267.6L393.3 267.5L392.6 267.4L391.8 267.3L391.1 267.3L390.4 267.3L389.6 267.3L388.9 267.4L388.1 267.5L387.4 267.6L386.7 267.8L385.9 267.9L385.2 267.9L384.4 267.8L383.7 267.7L383.0 267.6L382.2 267.5L381.5 267.5L380.7 267.5L380.0 267.6L379.3 267.7L378.5 267.8L377.8 268.0L377.0 268.1L376.3 268.1L375.6 268.0L374.8 267.9L374.1 267.8L373.3 267.7L372.6 267.7L371.9 267.7L371.1 267.7L370.4 267.8L369.6 268.0L368.9 268.2L368.2 268.3L367.4 268.4L366.7 268.3L365.9 268.2L365.2 268.0L364.5 267.9L363.7 267.9L363.0 267.8L362.2 267.9L361.5 268.0L360.8 268.2L360.0 268.4L359.3 268.5L358.5 268.7L357.8 268.6L357.1 268.4L356.3 268.3L355.6 268.1L354.8 268.1L354.1 268.0L353.4 268.1L352.6 268.2L351.9 268.3L351.1 268.5L350.4 268.7L349.7 268.9L348.9 268.9L348.2 268.7L347.4 268.5L346.7 268.4L346.0 268.3L345.2 268.2L344.5 268.2L343.7 268.3L343.0 268.5L342.3 268.7L341.5 268.9L340.8 269.1L340.0 269.1L339.3 269.0L338.6 268.8L337.8 268.6L337.1 268.5L336.3 268.4L335.6 268.4L334.9 268.5L334.1 268.7L333.4 268.9L332.6 269.1L331.9 269.3L331.2 269.4L330.4 269.3L329.7 269.1L328.9 268.9L328.2 268.8L327.5 268.7L326.7 268.7L326.0 268.8L325.2 269.0L324.5 269.2L323.8 269.5L323.0 269.8L322.3 270.0L321.5 269.9L320.8 269.7L320.1 269.5L319.3 269.3L318.6 269.2L317.8 269.1L317.1 269.2L316.4 269.4L315.6 269.6L314.9 270.0L314.1 270.3L313.4 270.6L312.7 270.5L311.9 270.3L311.2 270.0L310.4 269.8L309.7 269.7L309.0 269.6L308.2 269.6L307.5 269.8L306.7 270.1L306.0 270.4L305.3 270.8L304.5 271.1L303.8 271.1L303.0 270.9L302.3 270.6L301.6 270.4L300.8 270.2L300.1 270.1L299.3 270.1L298.6 270.2L297.9 270.5L297.1 270.8L296.4 271.2L295.6 271.6L294.9 271.8L294.2 271.6L293.4 271.3L292.7 271.0L291.9 270.7L291.2 270.6L290.5 270.5L289.7 270.7L289.0 270.9L288.2 271.3L287.5 271.7L286.8 272.1L286.0 272.5L285.3 272.3L284.5 271.9L283.8 271.6L283.1 271.3L282.3 271.1L281.6 271.0L280.8 271.1L280.1 271.4L279.4 271.7L278.6 272.2L277.9 272.6L277.1 273.0L276.4 273.0L275.7 272.6L274.9 272.2L274.2 271.8L273.4 271.5L272.7 271.4L272.0 271.4L271.2 271.7L270.5 272.1L269.7 272.6L269.0 273.1L268.3 273.6L267.5 273.7L266.8 273.3L266.0 272.9L265.3 272.4L264.6 272.1L263.8 271.9L263.1 271.8L262.3 272.1L261.6 272.5L260.9 273.0L260.1 273.6L259.4 274.2L258.6 274.5L257.9 274.1L257.2 273.6L256.4 273.1L255.7 272.6L254.9 272.3L254.2 272.2L253.5 272.4L252.7 272.8L252.0 273.4L251.2 274.1L250.5 274.7L249.8 275.2L249.0 274.9L248.3 274.3L247.5 273.7L246.8 273.2L246.1 272.9L245.3 272.8L244.6 273.0L243.8 273.4L243.1 274.1L242.4 274.9L241.6 275.7L240.9 276.4L240.1 276.4L239.4 275.8L238.7 275.2L237.9 274.6L237.2 274.2L236.4 273.9L235.7 274.0L235.0 274.5L234.2 275.2L233.5 276.0L232.7 277.0L232.0 277.9L231.3 278.1L230.5 277.6L229.8 276.9L229.0 276.2L228.3 275.6L227.6 275.3L226.8 275.4L226.1 275.8L225.3 276.6L224.6 277.6L223.9 278.7L223.1 279.8L222.4 280.5L221.6 279.9L220.9 279.1L220.2 278.2L219.4 277.5L218.7 277.0L217.9 276.9L217.2 277.3L216.5 278.1L215.7 279.2L215.0 280.5L214.2 281.7L213.5 282.8L212.8 282.3L212.0 281.4L211.3 280.3L210.5 279.4L209.8 278.8L209.1 278.5L208.3 278.8L207.6 279.5L206.8 280.7L206.1 282.1L205.4 283.5L204.6 284.8L203.9 284.7L203.1 283.7L202.4 282.5L201.7 281.3L200.9 280.5L200.2 280.0L199.4 280.2L198.7 280.9L198.0 282.0L197.2 283.5L196.5 285.2L195.7 286.7L195.0 287.1L194.3 286.0L193.5 284.6L192.8 283.2L192.0 282.2L191.3 281.5L190.6 281.4L189.8 282.1L189.1 283.3L188.3 284.9L187.6 286.8L186.9 288.6L186.1 289.7L185.4 288.6L184.6 287.0L183.9 285.5L183.2 284.1L182.4 283.3L181.7 283.0L180.9 283.5L180.2 284.7L179.5 286.3L178.7 288.3L178.0 290.3L177.2 291.9L176.5 291.0L175.8 289.4L175.0 287.5L174.3 285.9L173.5 284.8L172.8 284.2L172.1 284.5L171.3 285.6L170.6 287.2L169.8 289.3L169.1 291.5L168.4 293.3L167.6 293.1L166.9 291.4L166.1 289.4L165.4 287.5L164.7 286.1L163.9 285.3L163.2 285.4L162.4 286.4L161.7 288.0L161.0 290.2L160.2 292.5L159.5 294.7L158.7 295.3L158.0 293.6L157.3 291.5L156.5 289.4L155.8 287.7L155.0 286.7L154.3 286.6L153.6 287.5L152.8 289.1L152.1 291.3L151.3 293.9L150.6 296.4L149.9 298.0L149.1 296.4L148.4 294.2L147.6 291.9L146.9 290.0L146.2 288.8L145.4 288.3L144.7 289.1L143.9 290.7L143.2 293.1L142.5 295.9L141.7 298.7L141.0 301.1L140.2 300.0L139.5 297.8L138.8 295.3L138.0 293.1L137.3 291.5L136.5 290.8L135.8 291.4L135.1 292.9L134.3 295.3L133.6 298.4L132.8 301.5L132.1 304.3L131.4 304.3L130.6 302.0L129.9 299.2L129.1 296.7L128.4 294.8L127.7 293.8L126.9 294.0L126.2 295.5L125.4 298.0L124.7 301.3L124.0 304.9L123.2 308.2L122.5 309.5L121.7 307.1L121.0 304.2L120.3 301.4L119.5 299.1L118.8 297.7L118.0 297.5L117.3 298.9L116.6 301.4L115.8 304.8L115.1 308.8L114.3 312.6L113.6 315.4L112.9 313.1L112.1 310.0L111.4 306.7L110.6 303.9L109.9 302.1L109.2 301.4L108.4 302.6L107.7 305.1L106.9 308.7L106.2 313.1L105.5 317.4L104.7 321.1L104.0 319.7L103.2 316.4L102.5 312.7L101.8 309.3L101.0 307.0L100.3 305.9L99.5 306.6L98.8 308.9L98.1 312.6L97.3 317.1L96.6 321.9L95.8 326.2L95.1 326.2L94.4 322.7L93.6 318.6L92.9 314.7L92.1 311.7L91.4 310.1L90.7 310.3L89.9 312.3L89.2 315.9L88.4 320.5L87.7 325.7L87.0 330.4L86.2 332.2L85.5 328.5L84.7 324.0L84.0 319.5L83.3 315.9L82.5 313.7L81.8 313.1L81.0 314.9L80.3 318.2L79.6 323.0L78.8 328.4L78.1 333.7L77.3 337.6L76.6 334.0L75.9 329.2L75.1 324.3L74.4 320.0L73.6 317.1L72.9 315.9L72.2 317.2L71.4 320.4L70.7 325.1L69.9 330.9L69.2 336.7L68.5 341.6L67.7 339.5L67.0 334.6L66.2 329.1L65.5 324.2L64.8 320.7L64.0 318.9L63.3 319.6L62.5 322.6L61.8 327.3L61.1 333.4L60.3 339.8L59.6 345.4L58.8 345.5L58.1 340.6L57.4 334.8L56.6 329.2L55.9 325.0L55.1 322.5L54.4 322.5L53.7 325.1L52.9 329.7L52.2 335.9L51.4 342.8L50.7 349.1L50.0 351.7L49.2 346.7L48.5 340.5L47.7 334.3L47.0 329.3Z" fill="#7788d0"/>
<pattern id="st" width="4.535" height="400" patternUnits="userSpaceOnUse" x="48.5" y="100"><rect width="5" height="400" fill="#465ab9"/><rect width="1.7" height="400" fill="#6477c9"/></pattern>
<path d="M47.0 250.2L47.7 255.1L48.5 260.1L49.2 264.3L50.0 267.0L50.7 268.1L51.4 267.5L52.2 265.3L52.9 261.6L53.7 257.0L54.4 252.2L55.1 248.2L55.9 250.1L56.6 254.6L57.4 259.5L58.1 263.8L58.8 266.7L59.6 268.2L60.3 268.0L61.1 266.3L61.8 263.1L62.5 258.8L63.3 254.2L64.0 250.1L64.8 250.1L65.5 254.2L66.2 258.8L67.0 263.1L67.7 266.3L68.5 268.0L69.2 268.3L69.9 267.0L70.7 264.4L71.4 260.6L72.2 256.2L72.9 252.2L73.6 250.4L74.4 254.1L75.1 258.5L75.9 262.8L76.6 266.1L77.3 268.1L78.1 268.8L78.8 267.9L79.6 265.7L80.3 262.3L81.0 258.2L81.8 254.2L82.5 251.0L83.3 254.0L84.0 258.0L84.7 262.1L85.5 265.5L86.2 267.7L87.0 268.7L87.7 268.1L88.4 266.3L89.2 263.2L89.9 259.4L90.7 255.4L91.4 252.1L92.1 253.4L92.9 257.0L93.6 260.8L94.4 264.1L95.1 266.4L95.8 267.6L96.6 267.4L97.3 266.0L98.1 263.5L98.8 260.1L99.5 256.4L100.3 253.1L101.0 252.9L101.8 256.2L102.5 259.8L103.2 263.2L104.0 265.6L104.7 267.0L105.5 267.1L106.2 266.0L106.9 263.9L107.7 260.9L108.4 257.4L109.2 254.2L109.9 252.7L110.6 255.4L111.4 258.6L112.1 261.8L112.9 264.2L113.6 265.7L114.3 266.1L115.1 265.4L115.8 263.8L116.6 261.2L117.3 258.2L118.0 255.2L118.8 252.9L119.5 255.0L120.3 258.0L121.0 261.0L121.7 263.5L122.5 265.1L123.2 265.8L124.0 265.4L124.7 264.1L125.4 262.0L126.2 259.4L126.9 256.6L127.7 254.3L128.4 255.2L129.1 257.7L129.9 260.4L130.6 262.8L131.4 264.4L132.1 265.3L132.8 265.2L133.6 264.3L134.3 262.6L135.1 260.4L135.8 258.0L136.5 255.8L137.3 255.6L138.0 257.8L138.8 260.3L139.5 262.6L140.2 264.3L141.0 265.3L141.7 265.5L142.5 264.8L143.2 263.5L143.9 261.5L144.7 259.3L145.4 257.3L146.2 256.2L146.9 258.1L147.6 260.3L148.4 262.4L149.1 264.1L149.9 265.1L150.6 265.5L151.3 265.1L152.1 264.0L152.8 262.4L153.6 260.5L154.3 258.5L155.0 257.0L155.8 258.4L156.5 260.3L157.3 262.3L158.0 264.0L158.7 265.2L159.5 265.7L160.2 265.5L161.0 264.7L161.7 263.4L162.4 261.6L163.2 259.8L163.9 258.3L164.7 258.8L165.4 260.6L166.1 262.4L166.9 264.1L167.6 265.3L168.4 265.9L169.1 265.9L169.8 265.4L170.6 264.3L171.3 262.8L172.1 261.1L172.8 259.6L173.5 259.4L174.3 261.0L175.0 262.7L175.8 264.4L176.5 265.6L177.2 266.3L178.0 266.5L178.7 266.1L179.5 265.1L180.2 263.8L180.9 262.3L181.7 260.9L182.4 260.0L183.2 261.4L183.9 262.9L184.6 264.4L185.4 265.6L186.1 266.4L186.9 266.7L187.6 266.4L188.3 265.7L189.1 264.6L189.8 263.2L190.6 261.9L191.3 260.9L192.0 261.8L192.8 263.1L193.5 264.5L194.3 265.7L195.0 266.5L195.7 266.9L196.5 266.8L197.2 266.2L198.0 265.3L198.7 264.2L199.4 262.9L200.2 261.9L200.9 262.2L201.7 263.4L202.4 264.7L203.1 265.8L203.9 266.6L204.6 267.0L205.4 267.0L206.1 266.6L206.8 265.9L207.6 264.9L208.3 263.8L209.1 262.8L209.8 262.6L210.5 263.6L211.3 264.7L212.0 265.7L212.8 266.5L213.5 266.9L214.2 267.0L215.0 266.7L215.7 266.1L216.5 265.3L217.2 264.3L217.9 263.3L218.7 262.8L219.4 263.6L220.2 264.5L220.9 265.4L221.6 266.2L222.4 266.6L223.1 266.8L223.9 266.6L224.6 266.1L225.3 265.4L226.1 264.6L226.8 263.8L227.6 263.1L228.3 263.6L229.0 264.4L229.8 265.2L230.5 265.9L231.3 266.3L232.0 266.5L232.7 266.5L233.5 266.1L234.2 265.6L235.0 264.9L235.7 264.2L236.4 263.6L237.2 263.7L237.9 264.4L238.7 265.1L239.4 265.7L240.1 266.2L240.9 266.4L241.6 266.4L242.4 266.2L243.1 265.8L243.8 265.2L244.6 264.6L245.3 264.1L246.1 263.9L246.8 264.5L247.5 265.1L248.3 265.7L249.0 266.2L249.8 266.5L250.5 266.5L251.2 266.4L252.0 266.1L252.7 265.6L253.5 265.1L254.2 264.6L254.9 264.3L255.7 264.8L256.4 265.3L257.2 265.9L257.9 266.3L258.6 266.6L259.4 266.7L260.1 266.7L260.9 266.4L261.6 266.0L262.3 265.6L263.1 265.1L263.8 264.7L264.6 265.0L265.3 265.5L266.0 266.0L266.8 266.5L267.5 266.8L268.3 266.9L269.0 266.9L269.7 266.7L270.5 266.4L271.2 266.0L272.0 265.6L272.7 265.3L273.4 265.3L274.2 265.8L274.9 266.2L275.7 266.6L276.4 266.9L277.1 267.1L277.9 267.1L278.6 267.0L279.4 266.8L280.1 266.4L280.8 266.0L281.6 265.7L282.3 265.6L283.1 265.9L283.8 266.3L284.5 266.6L285.3 266.9L286.0 267.0L286.8 267.1L287.5 267.0L288.2 266.8L289.0 266.5L289.7 266.1L290.5 265.8L291.2 265.5L291.9 265.8L292.7 266.1L293.4 266.5L294.2 266.7L294.9 266.9L295.6 266.9L296.4 266.9L297.1 266.7L297.9 266.5L298.6 266.2L299.3 265.8L300.1 265.6L300.8 265.7L301.6 266.0L302.3 266.3L303.0 266.6L303.8 266.7L304.5 266.8L305.3 266.8L306.0 266.7L306.7 266.5L307.5 266.2L308.2 265.9L309.0 265.7L309.7 265.7L310.4 265.9L311.2 266.2L311.9 266.4L312.7 266.6L313.4 266.7L314.1 266.7L314.9 266.6L315.6 266.4L316.4 266.2L317.1 265.9L317.8 265.7L318.6 265.6L319.3 265.8L320.1 266.1L320.8 266.3L321.5 266.5L322.3 266.6L323.0 266.6L323.8 266.5L324.5 266.4L325.2 266.2L326.0 266.0L326.7 265.8L327.5 265.6L328.2 265.8L328.9 266.0L329.7 266.2L330.4 266.3L331.2 266.4L331.9 266.5L332.6 266.4L333.4 266.3L334.1 266.2L334.9 266.0L335.6 265.8L336.3 265.7L337.1 265.7L337.8 265.9L338.6 266.1L339.3 266.3L340.0 266.4L340.8 266.4L341.5 266.4L342.3 266.3L343.0 266.2L343.7 266.0L344.5 265.9L345.2 265.7L346.0 265.7L346.7 265.9L347.4 266.0L348.2 266.2L348.9 266.3L349.7 266.4L350.4 266.4L351.1 266.3L351.9 266.2L352.6 266.1L353.4 265.9L354.1 265.8L354.8 265.7L355.6 265.8L356.3 266.0L357.1 266.1L357.8 266.3L358.5 266.3L359.3 266.3L360.0 266.3L360.8 266.2L361.5 266.1L362.2 265.9L363.0 265.8L363.7 265.7L364.5 265.8L365.2 265.9L365.9 266.1L366.7 266.2L367.4 266.3L368.2 266.3L368.9 266.3L369.6 266.2L370.4 266.1L371.1 266.0L371.9 265.8L372.6 265.7L373.3 265.8L374.1 265.9L374.8 266.0L375.6 266.1L376.3 266.2L377.0 266.3L377.8 266.2L378.5 266.2L379.3 266.1L380.0 266.0L380.7 265.9L381.5 265.8L382.2 265.8L383.0 265.9L383.7 266.0L384.4 266.1L385.2 266.2L385.9 266.2L386.7 266.2L387.4 266.2L388.1 266.1L388.9 266.0L389.6 265.9L390.4 265.8L391.1 265.8L391.8 265.8L392.6 265.9L393.3 266.0L394.1 266.1L394.8 266.2L395.5 266.2L396.3 266.1L397.0 266.1L397.8 266.0L398.5 265.9L399.2 265.8L400.0 265.8L400.7 265.8L401.5 265.9L402.2 266.0L402.9 266.1L403.7 266.1L404.4 266.2L405.2 266.1L405.9 266.1L406.6 266.0L407.4 266.0L408.1 265.9L408.9 265.8L409.6 265.8L410.3 265.9L411.1 266.0L411.8 266.1L412.6 266.1L413.3 266.2L414.0 266.2L414.8 266.1L415.5 266.1L416.3 266.0L417.0 265.9L417.7 265.8L418.5 265.8L419.2 265.9L420.0 266.0L420.7 266.1L421.4 266.1L422.2 266.2L422.9 266.2L423.7 266.1L424.4 266.1L425.1 266.0L425.9 265.9L426.6 265.9L427.4 265.8L428.1 265.9L428.8 266.0L429.6 266.1L430.3 266.1L431.1 266.2L431.8 266.2L432.5 266.2L433.3 266.1L434.0 266.1L434.8 266.0L435.5 265.9L436.2 265.8L437.0 265.9L437.7 266.0L438.5 266.1L439.2 266.1L439.9 266.2L440.7 266.2L441.4 266.2L442.2 266.1L442.9 266.1L443.6 266.0L444.4 265.9L445.1 265.9L445.9 265.9L446.6 266.0L447.3 266.0L448.1 266.1L448.8 266.2L449.6 266.2L450.3 266.2L451.0 266.2L451.8 266.1L452.5 266.0L453.3 266.0L454.0 265.9L454.7 265.9L455.5 266.0L456.2 266.0L457.0 266.1L457.7 266.2L458.4 266.2L459.2 266.2L459.9 266.2L460.7 266.1L461.4 266.1L462.1 266.0L462.9 265.9L463.6 265.9L464.4 266.0L465.1 266.0L465.8 266.1L466.6 266.2L467.3 266.2L468.1 266.2L468.8 266.2L469.5 266.2L470.3 266.1L471.0 266.0L471.8 266.0L472.5 265.9L473.2 266.0L474.0 266.0L474.7 266.1L475.5 266.2L476.2 266.2L476.9 266.2L477.7 266.2L478.4 266.2L479.2 266.1L479.9 266.1L480.6 266.0L481.4 266.0L482.1 266.0L482.9 266.0L483.6 266.1L484.3 266.1L485.1 266.2L485.8 266.2L486.6 266.2L487.3 266.2L488.0 266.1L488.8 266.1L489.5 266.0L490.3 266.0L491.0 266.0L491.7 266.0L492.5 266.1L493.2 266.1L494.0 266.2L494.7 266.2L495.4 266.2L496.2 266.2L496.9 266.2L497.7 266.1L498.4 266.1L499.1 266.0L499.9 266.0L500.6 266.0L501.4 266.1L502.1 266.1L502.8 266.2L503.6 266.2L504.3 266.2L505.1 266.2L505.8 266.2L506.5 266.1L507.3 266.1L508.0 266.0L508.8 266.0L508.8 266.8L508.0 266.8L507.3 266.8L506.5 266.8L505.8 266.9L505.1 266.9L504.3 267.0L503.6 267.0L502.8 267.0L502.1 266.9L501.4 266.9L500.6 266.8L499.9 266.8L499.1 266.8L498.4 266.8L497.7 266.9L496.9 266.9L496.2 267.0L495.4 267.0L494.7 267.1L494.0 267.0L493.2 267.0L492.5 266.9L491.7 266.9L491.0 266.9L490.3 266.8L489.5 266.8L488.8 266.9L488.0 266.9L487.3 267.0L486.6 267.0L485.8 267.1L485.1 267.1L484.3 267.0L483.6 267.0L482.9 266.9L482.1 266.9L481.4 266.9L480.6 266.9L479.9 266.9L479.2 266.9L478.4 267.0L477.7 267.1L476.9 267.1L476.2 267.1L475.5 267.1L474.7 267.0L474.0 267.0L473.2 266.9L472.5 266.9L471.8 266.9L471.0 266.9L470.3 267.0L469.5 267.0L468.8 267.1L468.1 267.1L467.3 267.2L466.6 267.1L465.8 267.1L465.1 267.0L464.4 267.0L463.6 266.9L462.9 266.9L462.1 266.9L461.4 267.0L460.7 267.0L459.9 267.1L459.2 267.2L458.4 267.2L457.7 267.2L457.0 267.1L456.2 267.1L455.5 267.0L454.7 267.0L454.0 266.9L453.3 267.0L452.5 267.0L451.8 267.0L451.0 267.1L450.3 267.2L449.6 267.2L448.8 267.2L448.1 267.2L447.3 267.1L446.6 267.1L445.9 267.0L445.1 267.0L444.4 267.0L443.6 267.0L442.9 267.1L442.2 267.1L441.4 267.2L440.7 267.3L439.9 267.3L439.2 267.2L438.5 267.2L437.7 267.1L437.0 267.0L436.2 267.0L435.5 267.0L434.8 267.0L434.0 267.1L433.3 267.1L432.5 267.2L431.8 267.3L431.1 267.3L430.3 267.3L429.6 267.2L428.8 267.1L428.1 267.1L427.4 267.0L426.6 267.0L425.9 267.0L425.1 267.1L424.4 267.2L423.7 267.2L422.9 267.3L422.2 267.4L421.4 267.3L420.7 267.3L420.0 267.2L419.2 267.1L418.5 267.1L417.7 267.0L417.0 267.1L416.3 267.1L415.5 267.2L414.8 267.2L414.0 267.3L413.3 267.4L412.6 267.4L411.8 267.3L411.1 267.2L410.3 267.2L409.6 267.1L408.9 267.1L408.1 267.1L407.4 267.1L406.6 267.2L405.9 267.3L405.2 267.3L404.4 267.4L403.7 267.4L402.9 267.4L402.2 267.3L401.5 267.2L400.7 267.2L400.0 267.1L399.2 267.1L398.5 267.2L397.8 267.2L397.0 267.3L396.3 267.4L395.5 267.5L394.8 267.6L394.1 267.6L393.3 267.5L392.6 267.4L391.8 267.4L391.1 267.3L390.4 267.3L389.6 267.3L388.9 267.4L388.1 267.5L387.4 267.6L386.7 267.7L385.9 267.8L385.2 267.8L384.4 267.8L383.7 267.7L383.0 267.6L382.2 267.5L381.5 267.5L380.7 267.5L380.0 267.6L379.3 267.7L378.5 267.8L377.8 268.0L377.0 268.1L376.3 268.1L375.6 268.0L374.8 267.9L374.1 267.8L373.3 267.7L372.6 267.7L371.9 267.7L371.1 267.8L370.4 267.9L369.6 268.0L368.9 268.2L368.2 268.3L367.4 268.4L366.7 268.3L365.9 268.2L365.2 268.0L364.5 268.0L363.7 267.9L363.0 267.9L362.2 267.9L361.5 268.0L360.8 268.2L360.0 268.3L359.3 268.5L358.5 268.6L357.8 268.5L357.1 268.4L356.3 268.3L355.6 268.2L354.8 268.1L354.1 268.1L353.4 268.1L352.6 268.2L351.9 268.4L351.1 268.5L350.4 268.7L349.7 268.8L348.9 268.8L348.2 268.7L347.4 268.5L346.7 268.4L346.0 268.3L345.2 268.3L344.5 268.3L343.7 268.4L343.0 268.5L342.3 268.7L341.5 268.9L340.8 269.0L340.0 269.1L339.3 268.9L338.6 268.8L337.8 268.7L337.1 268.5L336.3 268.5L335.6 268.5L334.9 268.6L334.1 268.7L333.4 268.9L332.6 269.1L331.9 269.3L331.2 269.3L330.4 269.2L329.7 269.1L328.9 268.9L328.2 268.8L327.5 268.7L326.7 268.7L326.0 268.8L325.2 269.0L324.5 269.2L323.8 269.5L323.0 269.7L322.3 269.9L321.5 269.8L320.8 269.6L320.1 269.5L319.3 269.3L318.6 269.2L317.8 269.2L317.1 269.3L316.4 269.4L315.6 269.7L314.9 269.9L314.1 270.2L313.4 270.4L312.7 270.4L311.9 270.2L311.2 270.0L310.4 269.8L309.7 269.7L309.0 269.6L308.2 269.7L307.5 269.8L306.7 270.1L306.0 270.4L305.3 270.7L304.5 270.9L303.8 271.0L303.0 270.8L302.3 270.6L301.6 270.4L300.8 270.2L300.1 270.1L299.3 270.1L298.6 270.3L297.9 270.5L297.1 270.8L296.4 271.2L295.6 271.5L294.9 271.6L294.2 271.5L293.4 271.2L292.7 271.0L291.9 270.8L291.2 270.6L290.5 270.6L289.7 270.7L289.0 271.0L288.2 271.3L287.5 271.6L286.8 272.0L286.0 272.3L285.3 272.1L284.5 271.8L283.8 271.6L283.1 271.3L282.3 271.1L281.6 271.0L280.8 271.2L280.1 271.4L279.4 271.7L278.6 272.1L277.9 272.5L277.1 272.8L276.4 272.7L275.7 272.5L274.9 272.1L274.2 271.8L273.4 271.6L272.7 271.5L272.0 271.5L271.2 271.7L270.5 272.1L269.7 272.5L269.0 272.9L268.3 273.3L267.5 273.4L266.8 273.1L266.0 272.8L265.3 272.4L264.6 272.1L263.8 271.9L263.1 271.9L262.3 272.1L261.6 272.5L260.9 272.9L260.1 273.4L259.4 273.9L258.6 274.1L257.9 273.8L257.2 273.4L256.4 273.0L255.7 272.6L254.9 272.4L254.2 272.3L253.5 272.5L252.7 272.8L252.0 273.3L251.2 273.9L250.5 274.4L249.8 274.8L249.0 274.6L248.3 274.1L247.5 273.7L246.8 273.2L246.1 273.0L245.3 272.9L244.6 273.0L243.8 273.5L243.1 274.0L242.4 274.7L241.6 275.4L240.9 276.0L240.1 275.9L239.4 275.5L238.7 275.0L237.9 274.5L237.2 274.2L236.4 274.0L235.7 274.1L235.0 274.5L234.2 275.1L233.5 275.8L232.7 276.6L232.0 277.2L231.3 277.5L230.5 277.1L229.8 276.5L229.0 276.0L228.3 275.5L227.6 275.3L226.8 275.3L226.1 275.7L225.3 276.4L224.6 277.2L223.9 278.2L223.1 279.0L222.4 279.6L221.6 279.1L220.9 278.5L220.2 277.9L219.4 277.3L218.7 276.9L217.9 276.8L217.2 277.2L216.5 277.8L215.7 278.7L215.0 279.8L214.2 280.7L213.5 281.6L212.8 281.2L212.0 280.5L211.3 279.7L210.5 279.0L209.8 278.5L209.1 278.3L208.3 278.5L207.6 279.2L206.8 280.1L206.1 281.2L205.4 282.3L204.6 283.3L203.9 283.2L203.1 282.5L202.4 281.6L201.7 280.7L200.9 280.0L200.2 279.6L199.4 279.8L198.7 280.4L198.0 281.3L197.2 282.5L196.5 283.7L195.7 284.8L195.0 285.1L194.3 284.3L193.5 283.3L192.8 282.3L192.0 281.5L191.3 280.9L190.6 280.9L189.8 281.5L189.1 282.4L188.3 283.7L187.6 285.0L186.9 286.3L186.1 287.2L185.4 286.4L184.6 285.3L183.9 284.2L183.2 283.2L182.4 282.5L181.7 282.2L180.9 282.7L180.2 283.6L179.5 284.9L178.7 286.3L178.0 287.7L177.2 288.8L176.5 288.1L175.8 287.0L175.0 285.7L174.3 284.5L173.5 283.6L172.8 283.1L172.1 283.4L171.3 284.2L170.6 285.4L169.8 286.9L169.1 288.3L168.4 289.5L167.6 289.4L166.9 288.2L166.1 286.8L165.4 285.5L164.7 284.5L163.9 283.9L163.2 283.9L162.4 284.7L161.7 285.8L161.0 287.3L160.2 288.8L159.5 290.2L158.7 290.5L158.0 289.4L157.3 288.1L156.5 286.7L155.8 285.5L155.0 284.7L154.3 284.6L153.6 285.3L152.8 286.4L152.1 287.9L151.3 289.5L150.6 291.1L149.9 292.1L149.1 291.0L148.4 289.7L147.6 288.3L146.9 287.0L146.2 286.1L145.4 285.8L144.7 286.4L143.9 287.5L143.2 289.0L142.5 290.8L141.7 292.5L141.0 293.8L140.2 293.2L139.5 291.9L138.8 290.4L138.0 289.1L137.3 288.1L136.5 287.6L135.8 288.0L135.1 289.0L134.3 290.6L133.6 292.4L132.8 294.3L132.1 295.8L131.4 295.8L130.6 294.6L129.9 293.1L129.1 291.6L128.4 290.5L127.7 289.8L126.9 290.0L126.2 291.1L125.4 292.7L124.7 294.6L124.0 296.7L123.2 298.5L122.5 299.3L121.7 298.1L121.0 296.5L120.3 295.0L119.5 293.6L118.8 292.8L118.0 292.7L117.3 293.6L116.6 295.1L115.8 297.1L115.1 299.3L114.3 301.4L113.6 302.8L112.9 301.7L112.1 300.1L111.4 298.4L110.6 296.9L109.9 295.9L109.2 295.5L108.4 296.3L107.7 297.8L106.9 299.9L106.2 302.2L105.5 304.4L104.7 306.2L104.0 305.6L103.2 304.0L102.5 302.2L101.8 300.5L101.0 299.3L100.3 298.6L99.5 299.1L98.8 300.5L98.1 302.6L97.3 305.0L96.6 307.5L95.8 309.7L95.1 309.9L94.4 308.3L93.6 306.4L92.9 304.6L92.1 303.1L91.4 302.3L90.7 302.5L89.9 303.8L89.2 305.8L88.4 308.4L87.7 311.1L87.0 313.5L86.2 314.5L85.5 312.9L84.7 310.7L84.0 308.5L83.3 306.6L82.5 305.4L81.8 305.1L81.0 306.3L80.3 308.3L79.6 310.9L78.8 313.9L78.1 316.6L77.3 318.7L76.6 317.0L75.9 314.7L75.1 312.2L74.4 309.9L73.6 308.3L72.9 307.6L72.2 308.5L71.4 310.5L70.7 313.2L69.9 316.3L69.2 319.4L68.5 322.0L67.7 321.1L67.0 318.7L66.2 315.9L65.5 313.3L64.8 311.3L64.0 310.3L63.3 310.8L62.5 312.7L61.8 315.6L61.1 319.0L60.3 322.5L59.6 325.6L58.8 325.8L58.1 323.3L57.4 320.3L56.6 317.4L55.9 315.0L55.1 313.5L54.4 313.6L53.7 315.3L52.9 318.2L52.2 321.8L51.4 325.6L50.7 329.1L50.0 330.6L49.2 328.1L48.5 324.9L47.7 321.5L47.0 318.7Z" fill="url(#st)"/>
<path d="M47.0 294.5L50.8 293.6L54.5 292.8L58.3 292.0M72.3 289.2L76.9 288.4L81.5 287.5L86.1 286.7M100.0 284.5L104.6 283.8L109.2 283.2L113.8 282.5M126.5 280.9L131.1 280.3L135.7 279.8L140.3 279.3M153.5 277.9L158.1 277.4L162.7 277.0L167.3 276.6M181.3 275.4L185.9 275.1L190.5 274.7L195.1 274.4M210.5 273.3L215.3 273.1L220.1 272.8L224.9 272.5M239.8 271.7L244.6 271.5L249.4 271.2L254.2 271.0M269.2 270.4L274.0 270.2L278.8 270.0L283.6 269.9M298.5 269.4L303.3 269.2L308.1 269.1L312.9 268.9M327.7 268.5L332.5 268.4L337.3 268.3L342.1 268.2M357.0 267.9L361.8 267.8L366.6 267.7L371.4 267.6M386.2 267.4L391.0 267.3L395.8 267.2L400.6 267.2M415.4 267.0L420.2 266.9L425.0 266.8L429.8 266.8M444.6 266.6L449.4 266.6L454.2 266.5L459.0 266.5M473.8 266.4L478.6 266.3L483.4 266.3L488.2 266.3M503.0 266.2L505.0 266.2L507.0 266.2L509.0 266.1" stroke="#f0902a" stroke-width="2.7" fill="none"/>
<path d="M47,265.2H509" stroke="#e0222a" stroke-width="2.8" fill="none"/>
</g>
<path d="M47.4,212.8H509V377.3H47.4Z" fill="none" stroke="#8e8e8e" stroke-width="0.9"/>
<path d="M47.0,377.3v4.5M137.5,377.3v4.5M230.4,377.3v4.5M323.3,377.3v4.5M416.1,377.3v4.5M509.0,377.3v4.5M91.1,377.3v2.5M184.0,377.3v2.5M276.8,377.3v2.5M369.7,377.3v2.5M462.6,377.3v2.5" stroke="#8e8e8e" stroke-width="0.8" fill="none"/>
<path d="M47.4,212.8h-4.6M47.4,295.1h-4.6M47.4,377.3h-4.6M47.4,253.9h-2.5M47.4,336.2h-2.5" stroke="#8e8e8e" stroke-width="0.8" fill="none"/>
<text x="47.0" y="396.4" font-size="13.3" text-anchor="middle">2.5</text>
<text x="137.5" y="396.4" font-size="13.3" text-anchor="middle">100</text>
<text x="230.4" y="396.4" font-size="13.3" text-anchor="middle">200</text>
<text x="323.3" y="396.4" font-size="13.3" text-anchor="middle">300</text>
<text x="416.1" y="396.4" font-size="13.3" text-anchor="middle">400</text>
<text x="509.0" y="396.4" font-size="13.3" text-anchor="middle">500</text>
<text transform="translate(36.2,210.9) rotate(-60)" font-size="13" text-anchor="end">0.05</text>
<text transform="translate(36.2,293.2) rotate(-60)" font-size="13" text-anchor="end">0.00</text>
<text transform="translate(36.2,375.4) rotate(-60)" font-size="13" text-anchor="end">-0.05</text>
<text x="278.3" y="418.8" font-size="14.2" text-anchor="middle">Time (s)</text>
<text transform="translate(11,294.4) rotate(-90)" font-size="15.15" text-anchor="middle">Signal Amplitude (V)</text>
<text x="92.3" y="366.3" font-size="20" textLength="110.7" lengthAdjust="spacingAndGlyphs">2.5 s ~ 500 s</text>
<text x="484.7" y="249.5" font-size="40" text-anchor="middle">(b)</text>
<path d="M263.5,312.5H308" stroke="#b2b5cf" stroke-width="1" fill="none"/>
<path d="M262.5,336.4H306" stroke="#f0902a" stroke-width="2.2" stroke-dasharray="14.3 14.9" fill="none"/>
<path d="M262.5,360.7H308.3" stroke="#e0222a" stroke-width="2.3" fill="none"/>
<text x="313.1" y="318.6" font-size="19.2">Signal Amplitude</text>
<text x="313.1" y="342.6" font-size="19.2">Oscillation Center</text>
<text x="313.1" y="366.6" font-size="19.2">Offset of steady state</text>
</g>
</svg>
</body></html>
